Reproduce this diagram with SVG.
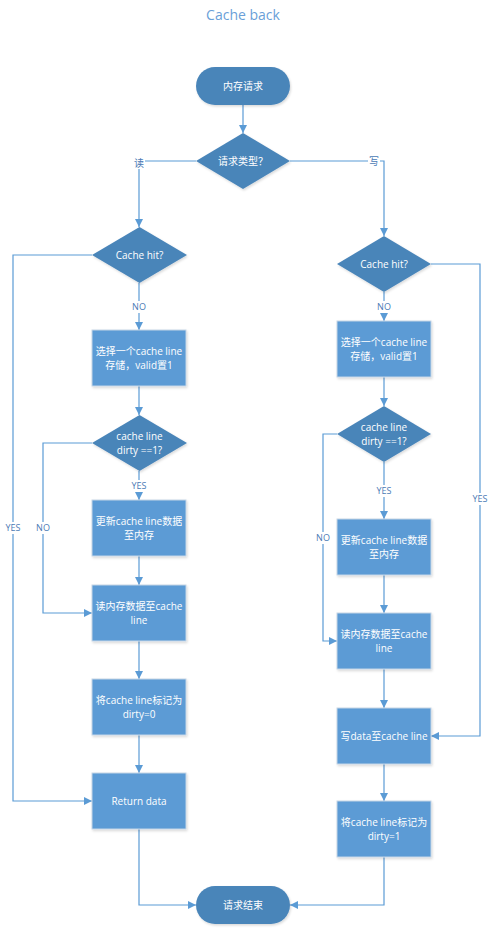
<svg xmlns="http://www.w3.org/2000/svg" width="493" height="932" viewBox="0 0 493 932">
<defs>
<marker id="ah" viewBox="0 0 10 10" refX="10" refY="5" markerWidth="8" markerHeight="8" markerUnits="userSpaceOnUse" orient="auto">
<path d="M0,0 L10,5 L0,10 z" fill="#5b9bd5"/>
</marker>
<filter id="sh" x="-10%" y="-10%" width="130%" height="130%">
<feDropShadow dx="1" dy="1.5" stdDeviation="1" flood-color="#000" flood-opacity="0.15"/>
</filter>
<style>
.t{font-family:"Open Sans","Noto Sans CJK SC",sans-serif;font-size:10px;fill:#fff;text-anchor:middle}
.term{fill:#4a85b9;filter:url(#sh)}
.dec{fill:#4a85b9;filter:url(#sh)}
.box{fill:#5b9bd5;stroke:#c5d5e6;stroke-width:1;filter:url(#sh)}
.c{fill:none;stroke:#5b9bd5;stroke-width:1.2}
.a{marker-end:url(#ah)}
.lb{font-family:"Open Sans","Noto Sans CJK SC",sans-serif;font-size:9px;fill:#4a7ab5;text-anchor:middle}
.bg{fill:#fff}
</style>
</defs>
<rect width="493" height="932" fill="#fff"/>
<text x="243" y="20" style="font-family:'Open Sans',sans-serif;font-size:14px;fill:#6a9fd8;text-anchor:middle">Cache back</text>

<g id="connectors">
<path class="c a" d="M243,105 V133"/>
<path class="c a" d="M196,161 H139 V227"/>
<path class="c a" d="M290,161 H384 V236"/>
<path class="c a" d="M139,283 V330"/>
<path class="c a" d="M139,386 V415"/>
<path class="c a" d="M139,471 V500"/>
<path class="c a" d="M139,556 V585"/>
<path class="c a" d="M92,443 H43 V613 H92"/>
<path class="c a" d="M139,641 V679"/>
<path class="c a" d="M139,735 V773"/>
<path class="c a" d="M92,255 H13 V801 H92"/>
<path class="c a" d="M139,829 V905 H196"/>
<path class="c a" d="M384,292 V321"/>
<path class="c a" d="M384,377 V406"/>
<path class="c a" d="M384,462 V519"/>
<path class="c a" d="M384,575 V613"/>
<path class="c a" d="M337,434 H323 V641 H337"/>
<path class="c a" d="M384,669 V708"/>
<path class="c a" d="M431,264 H480 V736 H431"/>
<path class="c a" d="M384,764 V801"/>
<path class="c a" d="M384,857 V905 H290"/>
<g id="labels">
<rect class="bg" x="133" y="157" width="12" height="12"/><text class="lb" x="139" y="167" style="font-size:10px">读</text>
<rect class="bg" x="368" y="155" width="12" height="12"/><text class="lb" x="374" y="165" style="font-size:10px">写</text>
<rect class="bg" x="130" y="301" width="18" height="12"/><text class="lb" x="139" y="310">NO</text>
<rect class="bg" x="128" y="480" width="22" height="12"/><text class="lb" x="139" y="489">YES</text>
<rect class="bg" x="34" y="522" width="18" height="12"/><text class="lb" x="43" y="531">NO</text>
<rect class="bg" x="2" y="522" width="22" height="12"/><text class="lb" x="13" y="531">YES</text>
<rect class="bg" x="375" y="301" width="18" height="12"/><text class="lb" x="384" y="310">NO</text>
<rect class="bg" x="373" y="485" width="22" height="12"/><text class="lb" x="384" y="494">YES</text>
<rect class="bg" x="314" y="532" width="18" height="12"/><text class="lb" x="323" y="541">NO</text>
<rect class="bg" x="469" y="493" width="22" height="12"/><text class="lb" x="480" y="502">YES</text>
</g>
</g>

<g id="start"><rect class="term" x="196" y="67" width="94" height="38" rx="19"/><text class="t" x="243" y="90">内存请求</text></g>
<g id="reqType"><path class="dec" d="M243,133 L290,161 L243,189 L196,161 Z"/><text class="t" x="243" y="165">请求类型？</text></g>

<g id="lHit"><path class="dec" d="M139.5,227 L187,255 L139.5,283 L92,255 Z"/><text class="t" x="139.5" y="259">Cache hit?</text></g>
<g id="lSelect"><rect class="box" x="92" y="330" width="94" height="56"/><text class="t" x="139" y="355">选择一个cache line</text><text class="t" x="139" y="369">存储，valid置1</text></g>
<g id="lDirty"><path class="dec" d="M139.5,415 L187,443 L139.5,471 L92,443 Z"/><text class="t" x="139.5" y="440">cache line</text><text class="t" x="139.5" y="454">dirty ==1?</text></g>
<g id="lWriteBack"><rect class="box" x="92" y="500" width="94" height="56"/><text class="t" x="139" y="525">更新cache line数据</text><text class="t" x="139" y="539">至内存</text></g>
<g id="lRead"><rect class="box" x="92" y="585" width="94" height="56"/><text class="t" x="139" y="610">读内存数据至cache</text><text class="t" x="139" y="624">line</text></g>
<g id="lMark"><rect class="box" x="92" y="679" width="94" height="56"/><text class="t" x="139" y="704">将cache line标记为</text><text class="t" x="139" y="718">dirty=0</text></g>
<g id="lReturn"><rect class="box" x="92" y="773" width="94" height="56"/><text class="t" x="139" y="805">Return data</text></g>

<g id="rHit"><path class="dec" d="M384,236 L431,264 L384,292 L337,264 Z"/><text class="t" x="384" y="268">Cache hit?</text></g>
<g id="rSelect"><rect class="box" x="337" y="321" width="94" height="56"/><text class="t" x="384" y="346">选择一个cache line</text><text class="t" x="384" y="360">存储，valid置1</text></g>
<g id="rDirty"><path class="dec" d="M384,406 L431,434 L384,462 L337,434 Z"/><text class="t" x="384" y="431">cache line</text><text class="t" x="384" y="445">dirty ==1?</text></g>
<g id="rWriteBack"><rect class="box" x="337" y="519" width="94" height="56"/><text class="t" x="384" y="544">更新cache line数据</text><text class="t" x="384" y="558">至内存</text></g>
<g id="rRead"><rect class="box" x="337" y="613" width="94" height="56"/><text class="t" x="384" y="638">读内存数据至cache</text><text class="t" x="384" y="652">line</text></g>
<g id="rWrite"><rect class="box" x="337" y="708" width="94" height="56"/><text class="t" x="384" y="740">写data至cache line</text></g>
<g id="rMark"><rect class="box" x="337" y="801" width="94" height="56"/><text class="t" x="384" y="826">将cache line标记为</text><text class="t" x="384" y="840">dirty=1</text></g>

<g id="end"><rect class="term" x="196" y="886" width="94" height="38" rx="19"/><text class="t" x="243" y="909">请求结束</text></g>
</svg>
